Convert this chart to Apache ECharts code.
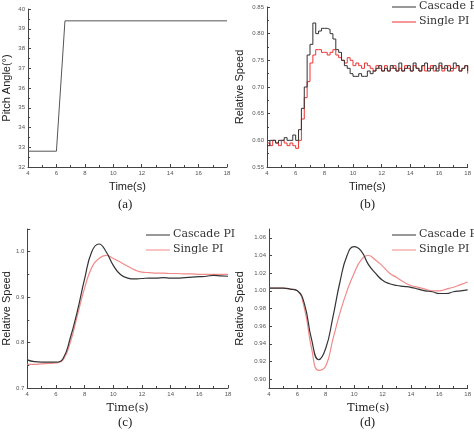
<!DOCTYPE html><html><head><meta charset="utf-8"><script src="https://cdn.jsdelivr.net/npm/echarts@6/dist/echarts.min.js"></script>
<style>html,body{margin:0;background:#fff}#c{width:474px;height:433px}</style></head><body><div id="c"></div><script>
const tA=[4,6,6.6,18];
const pitch=[32.8,32.8,39.4,39.4];
const tB=[];for(let i=0;i<=70;i++)tB.push(+(4+i*0.2).toFixed(1));
const cascB=[0.59,0.60,0.60,0.595,0.60,0.60,0.605,0.60,0.60,0.61,0.60,0.62,0.66,0.70,0.76,0.78,0.82,0.80,0.805,0.81,0.81,0.808,0.80,0.79,0.77,0.765,0.75,0.74,0.735,0.725,0.72,0.72,0.725,0.72,0.72,0.73,
0.725,0.73,0.735,0.74,0.73,0.735,0.73,0.74,0.735,0.73,0.745,0.73,0.735,0.74,0.73,0.745,0.735,0.73,0.74,0.745,0.73,0.735,0.74,0.73,0.745,0.735,0.74,0.73,0.735,0.745,0.74,0.73,0.735,0.74,0.73];
const singB=[0.595,0.59,0.60,0.595,0.59,0.60,0.595,0.59,0.595,0.59,0.585,0.60,0.64,0.68,0.71,0.745,0.76,0.77,0.77,0.765,0.765,0.76,0.765,0.77,0.76,0.755,0.75,0.745,0.755,0.75,0.74,0.745,0.74,0.735,0.745,0.74,
0.735,0.73,0.74,0.735,0.73,0.74,0.73,0.735,0.74,0.73,0.735,0.73,0.74,0.735,0.73,0.74,0.735,0.73,0.74,0.73,0.735,0.74,0.73,0.735,0.74,0.73,0.735,0.74,0.73,0.735,0.74,0.73,0.735,0.74,0.725];
const tC=[];for(let i=0;i<=28;i++)tC.push(4+i*0.5);
const cascC=[0.762,0.758,0.757,0.757,0.757,0.765,0.81,0.87,0.94,1.0,1.017,1.0,0.97,0.95,0.942,0.94,0.941,0.942,0.942,0.943,0.942,0.942,0.943,0.944,0.945,0.946,0.948,0.947,0.946];
const singC=[0.752,0.752,0.753,0.754,0.755,0.762,0.80,0.86,0.92,0.965,0.985,0.992,0.985,0.977,0.968,0.96,0.955,0.954,0.953,0.953,0.952,0.952,0.951,0.951,0.95,0.95,0.95,0.95,0.95];
const cascD=[1.003,1.003,1.003,1.002,1.0,0.985,0.945,0.922,0.935,0.97,1.01,1.04,1.05,1.045,1.03,1.02,1.012,1.008,1.006,1.005,1.004,1.002,1.0,0.999,0.997,0.997,0.999,1.0,1.001];
const singD=[1.003,1.003,1.003,1.002,1.0,0.98,0.935,0.91,0.915,0.945,0.975,1.0,1.02,1.035,1.04,1.035,1.028,1.02,1.015,1.01,1.006,1.004,1.002,1.0,1.0,1.002,1.004,1.007,1.01];
const yTicksD=[0.90,0.92,0.94,0.96,0.98,1.00,1.02,1.04,1.06];

const grids=[{left:28,width:199,top:9,height:158},{left:267,width:202,top:7,height:160},{left:26,width:202,top:229,height:159},{left:269,width:200,top:229,height:159}];
const ax={lineStyle:{color:'#444',width:1}};
const lab={fontSize:6,color:'#555',fontFamily:'Liberation Sans',margin:3};
const xAxis=grids.map((g,i)=>({type:'value',gridIndex:i,min:4,max:18,interval:2,axisLine:ax,axisTick:{inside:true,length:3,lineStyle:{color:'#444'}},minorTick:{show:true,splitNumber:2,length:2,lineStyle:{color:'#444'}},splitLine:{show:false},axisLabel:lab,
 name:'Time(s)',nameLocation:'middle',nameGap:i<2?14:15,nameTextStyle:{fontSize:11,color:'#222',fontFamily:i<2?'Liberation Sans':'DejaVu Serif'}}));
function yA(i,min,max,interval,name,fmt,extra){return Object.assign({type:'value',gridIndex:i,min,max,interval,axisLine:ax,axisTick:{inside:true,length:3,lineStyle:{color:'#444'}},minorTick:{show:true,splitNumber:2,length:2,lineStyle:{color:'#444'}},splitLine:{show:false},
 axisLabel:Object.assign({},lab,{formatter:fmt}),name,nameLocation:'middle',nameGap:i==0?16:(i==1?22:i==2?14:24),nameTextStyle:{fontSize:11,color:'#222',fontFamily:'Liberation Sans'}},extra||{});}
const yAxis=[yA(0,32,40,1,'Pitch Angle(°)',v=>v),yA(1,0.55,0.85,0.05,'Relative Speed',v=>v.toFixed(2)),
 yA(2,0.7,1.05,0.1,'Relative Speed',v=>v.toFixed(1),{axisLabel:Object.assign({},lab,{formatter:v=>v.toFixed(1),showMaxLabel:false})}),
 yA(3,0.89,1.07,null,'Relative Speed',v=>v.toFixed(2),{interval:undefined,axisLabel:Object.assign({},lab,{formatter:v=>(+v).toFixed(2),customValues:yTicksD}),axisTick:{inside:true,length:3,customValues:yTicksD,lineStyle:{color:'#444'}},minorTick:{show:false}})];
const z=a=>b=>a.map((x,i)=>[x,b[i]]);
const ln=(i,d,c,step,w,sm)=>({type:'line',xAxisIndex:i,yAxisIndex:i,data:d,showSymbol:false,step:step?'end':false,smooth:!!sm,lineStyle:{color:c,width:w||1},z:c=='#333'?3:2});
const series=[ln(0,z(tA)(pitch),'#555'),
 ln(1,z(tB)(cascB),'#333',true),ln(1,z(tB)(singB),'#e33',true),
 ln(2,z(tC)(cascC),'#333',false,1.2,true),ln(2,z(tC)(singC),'#f28a8a',false,1.2,true),
 ln(3,z(tC)(cascD),'#333',false,1.2,true),ln(3,z(tC)(singD),'#f28a8a',false,1.2,true)];
const gtxt=[];
const legs=[[392,0,'#e33'],[146,6,'#f28a8a'],[392,6,'#f28a8a']];
legs.forEach(([x,y,c2],k)=>{const yy=k==0?y:y+222;const cs=['#333',c2];
 [['Cascade PI',0],['Single PI',15]].forEach(([t,dy],j)=>{gtxt.push({type:'line',shape:{x1:x,y1:yy+7+dy,x2:x+24,y2:yy+7+dy},style:{stroke:cs[j],lineWidth:1}});
 gtxt.push({type:'text',x:x+27,y:yy+1+dy,style:{text:t,fontSize:11,fontFamily:'DejaVu Serif',fill:'#333'}});});});
[['(a)',118,198],['(b)',360,198],['(c)',118,416],['(d)',360,416]].forEach(([t,x,y])=>gtxt.push({type:'text',x,y,style:{text:t,fontSize:13,fontFamily:'Liberation Serif',fill:'#222'}}));
const ch=echarts.init(document.getElementById('c'));
ch.setOption({animation:false,grid:grids,xAxis,yAxis,series,graphic:gtxt});
</script></body></html>
